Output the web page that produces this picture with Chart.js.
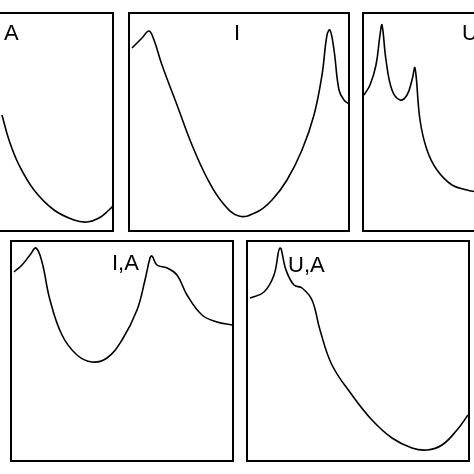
<!DOCTYPE html>
<html><head><meta charset="utf-8">
<script src="https://cdn.jsdelivr.net/npm/chart.js@4/dist/chart.umd.min.js"></script>
<style>
body{margin:0;width:474px;height:474px;background:#fff;position:relative;overflow:hidden;font-family:"Liberation Sans",Arial,sans-serif}
.p{position:absolute;border:2px solid #000;box-sizing:border-box;background:#fff}
.p canvas{position:absolute;left:0;top:0}
.lbl{position:absolute;font-size:22px;color:#000}
</style></head><body>
<script>
// Curves: [x, y] in panel data units
const curveA  = [[108,115],[115,90],[125,65],[140,40],[160,20],[180,10],[193,8],[205,12],[215,20],[220,25]];
const curveI  = [[2,182],[12,192],[19,199],[24,190],[32,165],[47,125],[62,85],[77,52],[92,28],[109,14],[127,18],[142,30],[157,50],[172,80],[184,115],[192,155],[197,195],[200,200],[204,180],[209,140],[214,130],[219,126]];
const curveU  = [[0,135],[6,145],[12,165],[16,195],[18,205],[22,170],[28,140],[36,130],[43,135],[48,150],[51,162],[56,110],[63,80],[73,60],[88,45],[103,40],[112,38]];
const curveIA = [[2,188],[10,195],[18,205],[24,212],[30,198],[38,160],[50,125],[65,105],[80,98],[95,102],[110,120],[125,150],[133,180],[138,202],[140,204],[145,195],[155,192],[165,185],[175,165],[190,145],[205,138],[220,135]];
const curveUA = [[2,162],[16,168],[26,185],[32,212],[38,190],[46,175],[54,172],[64,160],[72,130],[84,95],[104,65],[124,40],[144,22],[164,12],[179,10],[194,15],[209,30],[220,45]];
const labels = ["A","I","U","I,A","U,A"];

const panels = [
 {l:-108,t:12,w:222,h:220,d:curveA,lab:labels[0],lx:110,ly:18},
 {l:128,t:12,w:222,h:220,d:curveI,lab:labels[1],lx:104,ly:18},
 {l:362,t:12,w:222,h:220,d:curveU,lab:labels[2],lx:98,ly:18},
 {l:10,t:240,w:224,h:222,d:curveIA,lab:labels[3],lx:100,ly:20},
 {l:246,t:240,w:224,h:222,d:curveUA,lab:labels[4],lx:40,ly:22}
];
panels.forEach(p=>{
  const div=document.createElement('div');div.className='p';
  Object.assign(div.style,{left:p.l+'px',top:p.t+'px',width:p.w+'px',height:p.h+'px'});
  const c=document.createElement('canvas');c.width=p.w-4;c.height=p.h-4;
  c.style.width=(p.w-4)+'px';c.style.height=(p.h-4)+'px';
  div.appendChild(c);
  const lb=document.createElement('div');lb.className='lbl';lb.textContent=p.lab;
  lb.style.left=p.lx+'px';lb.style.top=(p.ly-12)+'px';div.appendChild(lb);
  document.body.appendChild(div);
  new Chart(c,{type:'line',data:{datasets:[{data:p.d.map(a=>({x:a[0],y:a[1]})),borderColor:'#000',borderWidth:1.6,pointRadius:0,tension:0.4,fill:false}]},
   options:{responsive:false,animation:false,layout:{padding:0},plugins:{legend:{display:false},tooltip:{enabled:false}},
   scales:{x:{type:'linear',min:0,max:p.w-4,display:false},y:{min:0,max:p.h-4,display:false}}}});
});
</script>
</body></html>
